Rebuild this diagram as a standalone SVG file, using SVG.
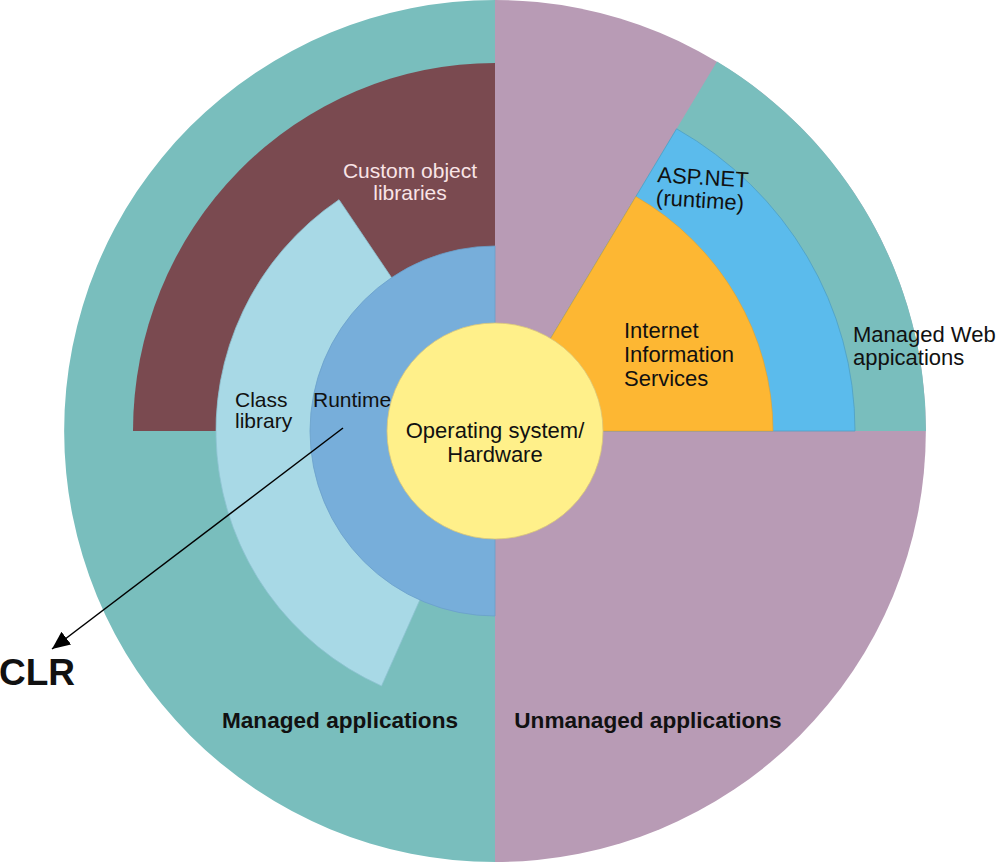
<svg xmlns="http://www.w3.org/2000/svg" width="1000" height="863" viewBox="0 0 1000 863">
  <defs>
    <style>
      .t { font-family: "Liberation Sans", Arial, sans-serif; fill: #111; }
      .b { font-weight: bold; }
      .teal { fill: #79BEBD; }
      .purple { fill: #B89BB5; }
    </style>
    <marker id="ah" markerUnits="userSpaceOnUse" markerWidth="20" markerHeight="18" refX="18" refY="8" orient="auto">
      <path d="M0,0 L18,8 L0,16 Z" fill="#000"/>
    </marker>
  </defs>
  <rect width="1000" height="863" fill="#fff"/>

  <g id="managed-applications">
    <path class="teal" d="M495 0 A431 431 0 0 0 495 862 Z"/>
    <text class="t b" x="340" y="728" font-size="22.6" text-anchor="middle">Managed applications</text>
  </g>

  <g id="unmanaged-applications">
    <path class="purple" d="M495 0 A431 431 0 0 1 495 862 Z"/>
    <text class="t b" x="648" y="728" font-size="22.6" text-anchor="middle">Unmanaged applications</text>
  </g>

  <g id="managed-web-applications">
    <path class="teal" d="M495 431 L717 61.6 A431 431 0 0 1 926 431 Z"/>
    <text class="t" font-size="22" x="853" y="342">Managed Web</text>
    <text class="t" font-size="22" x="853" y="365">appications</text>
  </g>

  <g id="custom-object-libraries">
    <path d="M495 431 L133 431 A362 368 0 0 1 495 63 Z" fill="#7A4A50"/>
    <text class="t" font-size="21" x="410" y="178" text-anchor="middle" style="fill:#F9E4E6">Custom object</text>
    <text class="t" font-size="21" x="410" y="200" text-anchor="middle" style="fill:#F9E4E6">libraries</text>
  </g>

  <g id="class-library">
    <path d="M495 431 L339 199.7 A279 279 0 0 0 381.5 685.9 Z" fill="#A8D9E6" stroke="#8EC3D2" stroke-width="0.8"/>
    <text class="t" font-size="21" x="235" y="407">Class</text>
    <text class="t" font-size="21" x="235" y="428">library</text>
  </g>

  <g id="runtime">
    <path d="M495 246 A185 185 0 0 0 495 616 Z" fill="#77AEDA" stroke="#6A9FCA" stroke-width="0.8"/>
    <text class="t" font-size="21" x="313" y="407">Runtime</text>
  </g>

  <g id="asp-net">
    <path d="M495 431 L676.6 128.8 A360 350 0 0 1 855 431 Z" fill="#5BBBEC" stroke="#4E9FC4" stroke-width="0.8"/>
    <g transform="rotate(3.5 657 182)">
      <text class="t" font-size="22" x="657" y="182">ASP.NET</text>
      <text class="t" font-size="22" x="657" y="205">(runtime)</text>
    </g>
  </g>

  <g id="iis">
    <path d="M495 431 L635.9 196.6 A278 273 0 0 1 773 431 Z" fill="#FDB733" stroke="#E3A12C" stroke-width="0.6"/>
    <text class="t" font-size="22" x="624" y="338">Internet</text>
    <text class="t" font-size="22" x="624" y="362">Information</text>
    <text class="t" font-size="22" x="624" y="386">Services</text>
  </g>

  <g id="os-hardware">
    <circle cx="495" cy="431" r="108" fill="#FFF08A" stroke="#D9C77A" stroke-width="0.8"/>
    <text class="t" font-size="22" x="495" y="438" text-anchor="middle">Operating system/</text>
    <text class="t" font-size="22" x="495" y="462" text-anchor="middle">Hardware</text>
  </g>

  <g id="clr">
    <text class="t b" font-size="37" x="-1" y="685">CLR</text>
  </g>

  <g id="connectors">
    <line x1="343" y1="428" x2="52" y2="649" stroke="#000" stroke-width="1.5" marker-end="url(#ah)"/>
  </g>
</svg>
